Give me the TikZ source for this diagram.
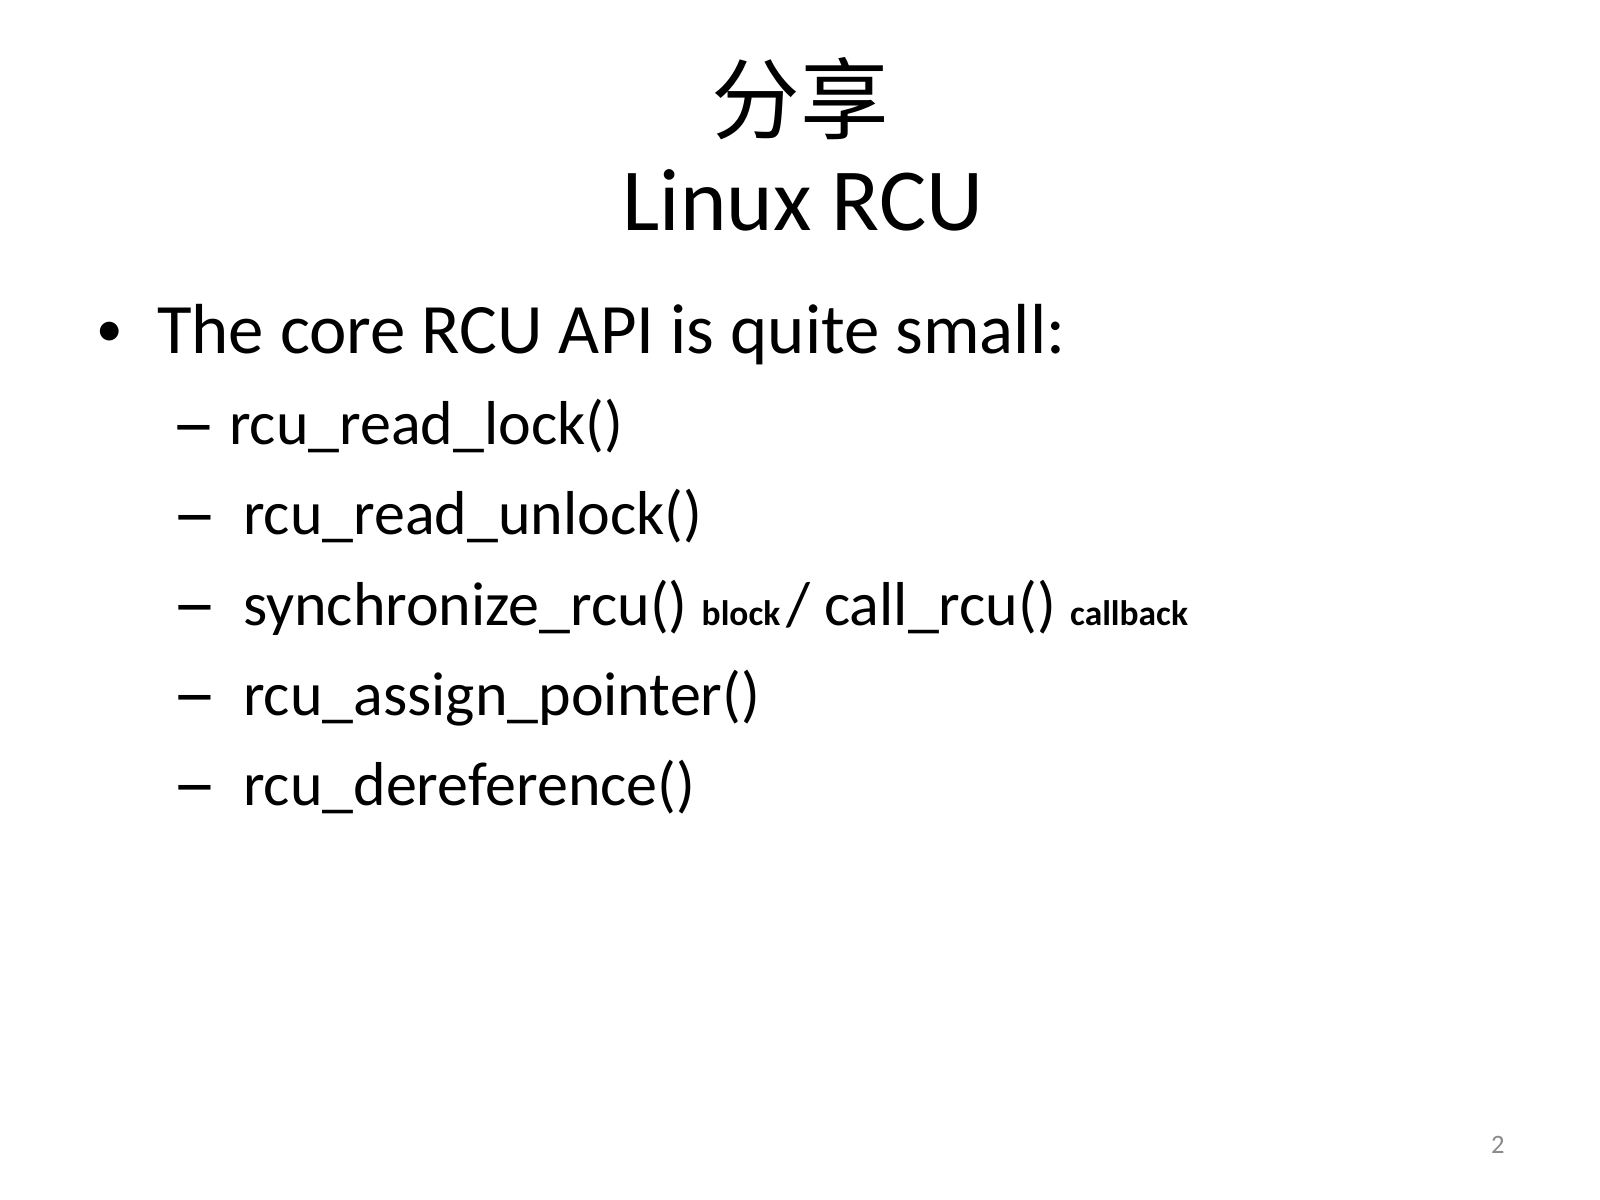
\documentclass[tikz,border=0pt]{standalone}
\usepackage{fontspec}
\usepackage{graphicx}
\setmainfont{Carlito}
\newfontfamily\cjk{Noto Sans CJK SC}
\usetikzlibrary{positioning}
\def\tagfont{\fontsize{16}{19}\selectfont\bfseries}
\def\itemdash{\raisebox{-1.5pt}{\scalebox{1.45}[1.2]{–}}}
\tikzset{
	slidetext/.style={inner sep=0pt, outer sep=0pt, anchor=base west},
	titletext/.style={inner sep=0pt, outer sep=0pt, anchor=base},
	itemtext/.style={slidetext, font=\fontsize{28}{34}\selectfont}
}

\begin{document}
\begin{tikzpicture}[x=0.015875cm, y=-0.015875cm]
			%%%%% START %%%%%
			
			\useasboundingbox[fill=white] (0, 0) rectangle (1600, 1200);
			
			\node[titletext, font=\fontsize{40}{48}\selectfont\cjk] (share) at (800, 133) {分享};
			\node[titletext, font=\fontsize{40}{48}\selectfont] (title) at (803, 231) {Linux RCU};
			
			\node[slidetext, font=\fontsize{24}{29}\selectfont] (dot) at (96, 347) {•};
			\node[slidetext, font=\fontsize{32}{38}\selectfont] (core) at (157, 354) {The core RCU API is quite small:};
			
			\node[itemtext] (dash1) at (171, 445) {\itemdash};
			\node[itemtext] (lock) at (229, 445) {rcu\_read\_lock()};
			
			\node[itemtext] (dash2) at (172, 535) {\itemdash};
			\node[itemtext] (unlock) at (243, 535) {rcu\_read\_unlock()};
			
			\node[itemtext] (dash3) at (172, 625) {\itemdash};
			\node[itemtext] (sync) at (243, 625) {synchronize\_rcu() {\tagfont block\,}/ call\_rcu() {\tagfont callback}};
			
			\node[itemtext] (dash4) at (172, 715) {\itemdash};
			\node[itemtext] (assign) at (243, 715) {rcu\_assign\_pointer()};
			
			\node[itemtext] (dash5) at (172, 805) {\itemdash};
			\node[itemtext] (deref) at (243, 805) {rcu\_dereference()};
			
			\node[slidetext, text=black!46, font=\fontsize{12}{14}\selectfont] (page) at (1491, 1153) {2};
			
			%%%%% END %%%%%
\end{tikzpicture}
\end{document}
